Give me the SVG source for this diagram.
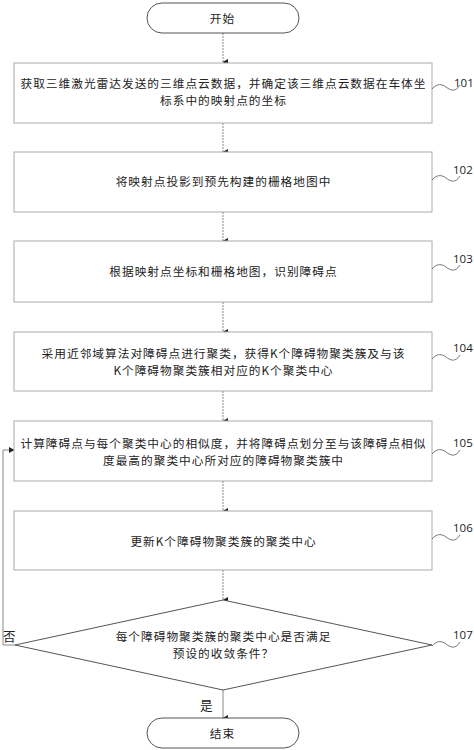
<svg xmlns="http://www.w3.org/2000/svg" width="474" height="750" viewBox="0 0 474 750">
<defs>
<marker id="ah" markerWidth="7" markerHeight="7" refX="3.5" refY="6" orient="auto-start-reverse" markerUnits="userSpaceOnUse" viewBox="0 0 7 7">
<path d="M0.5,1 L6.5,1 L3.5,6.5 Z" fill="#222"/>
</marker>
<marker id="ahr" markerWidth="7" markerHeight="7" refX="6" refY="3.5" orient="0" markerUnits="userSpaceOnUse" viewBox="0 0 7 7">
<path d="M1,0.5 L6.5,3.5 L1,6.5 Z" fill="#222"/>
</marker>
</defs>
<style>
.box{fill:#fff;stroke:#aaa;stroke-width:1}
.term{fill:#fff;stroke:#555;stroke-width:1}
.dia{fill:#fff;stroke:#555;stroke-width:1}
.t{font-family:"Noto Sans CJK SC","Noto Sans CJK JP",sans-serif;font-size:11.7px;letter-spacing:1px;fill:#222;text-anchor:middle}
.tl{font-family:"Noto Sans CJK SC",sans-serif;font-size:12.6px;fill:#222}
.lab{font-family:"Open Sans","Liberation Sans",sans-serif;font-size:11.5px;fill:#222}
.sq{fill:none;stroke:#555;stroke-width:0.8}
.con{fill:none;stroke:#888;stroke-width:1;stroke-dasharray:2 1}
.loop{fill:none;stroke:#888;stroke-width:1}
</style>
<rect width="474" height="750" fill="#fff"/>
<g id="connectors">
<line class="con" x1="223" y1="33" x2="223" y2="62" marker-end="url(#ah)"/>
<line class="con" x1="223" y1="123" x2="223" y2="152" marker-end="url(#ah)"/>
<line class="con" x1="223" y1="212" x2="223" y2="241" marker-end="url(#ah)"/>
<line class="con" x1="223" y1="302" x2="223" y2="332" marker-end="url(#ah)"/>
<line class="con" x1="223" y1="391" x2="223" y2="421" marker-end="url(#ah)"/>
<line class="con" x1="223" y1="481" x2="223" y2="511" marker-end="url(#ah)"/>
<line class="con" x1="223" y1="570" x2="223" y2="600" marker-end="url(#ah)"/>
<line class="loop" x1="223" y1="690" x2="223" y2="718" marker-end="url(#ah)"/>
<polyline class="loop" points="15,645 3,645 3,450 14,450" marker-end="url(#ahr)"/>
<text class="tl" x="3" y="641">否</text>
<text class="tl" x="200" y="710">是</text>
</g>
<g id="start">
<rect class="term" x="147" y="3" width="152" height="30" rx="15"/>
<text class="t" x="222.5" y="23">开始</text>
</g>
<g id="n101">
<rect class="box" x="14" y="63" width="418" height="60"/>
<text class="t" x="223.5" y="88">获取三维激光雷达发送的三维点云数据，并确定该三维点云数据在车体坐</text>
<text class="t" x="223.5" y="105">标系中的映射点的坐标</text>
<path class="sq" d="M432,89 C437,83 442,84 446,87 S455,93 460,85"/>
<text class="lab" x="454" y="87">101</text>
</g>
<g id="n102">
<rect class="box" x="14" y="152" width="418" height="60"/>
<text class="t" x="223.5" y="186">将映射点投影到预先构建的栅格地图中</text>
<path class="sq" d="M432,180 C437,174 442,175 446,178 S455,184 460,176"/>
<text class="lab" x="453" y="174">102</text>
</g>
<g id="n103">
<rect class="box" x="14" y="241" width="418" height="61"/>
<text class="t" x="223.5" y="276">根据映射点坐标和栅格地图，识别障碍点</text>
<path class="sq" d="M432,269 C437,263 442,264 446,267 S455,273 460,265"/>
<text class="lab" x="453" y="263">103</text>
</g>
<g id="n104">
<rect class="box" x="14" y="332" width="418" height="59"/>
<text class="t" x="223.5" y="358">采用近邻域算法对障碍点进行聚类，获得K个障碍物聚类簇及与该</text>
<text class="t" x="223.5" y="375">K个障碍物聚类簇相对应的K个聚类中心</text>
<path class="sq" d="M432,359 C437,353 442,354 446,357 S455,363 460,355"/>
<text class="lab" x="453" y="352">104</text>
</g>
<g id="n105">
<rect class="box" x="14" y="421" width="418" height="60"/>
<text class="t" x="223.5" y="448">计算障碍点与每个聚类中心的相似度，并将障碍点划分至与该障碍点相似</text>
<text class="t" x="223.5" y="465">度最高的聚类中心所对应的障碍物聚类簇中</text>
<path class="sq" d="M432,454 C437,448 442,449 446,452 S455,458 460,450"/>
<text class="lab" x="453" y="447">105</text>
</g>
<g id="n106">
<rect class="box" x="14" y="511" width="418" height="59"/>
<text class="t" x="223.5" y="546">更新K个障碍物聚类簇的聚类中心</text>
<path class="sq" d="M432,539 C437,533 442,534 446,537 S455,543 460,535"/>
<text class="lab" x="453" y="532">106</text>
</g>
<g id="n107">
<polygon class="dia" points="223,600 432,645 223,690 15,645"/>
<text class="t" x="223.5" y="641">每个障碍物聚类簇的聚类中心是否满足</text>
<text class="t" x="223.5" y="658">预设的收敛条件？</text>
<path class="sq" d="M432,646 C437,640 442,641 446,644 S455,650 460,642"/>
<text class="lab" x="453" y="639">107</text>
</g>
<g id="end">
<rect class="term" x="147" y="718" width="152" height="30" rx="15"/>
<text class="t" x="222.5" y="738">结束</text>
</g>
</svg>
